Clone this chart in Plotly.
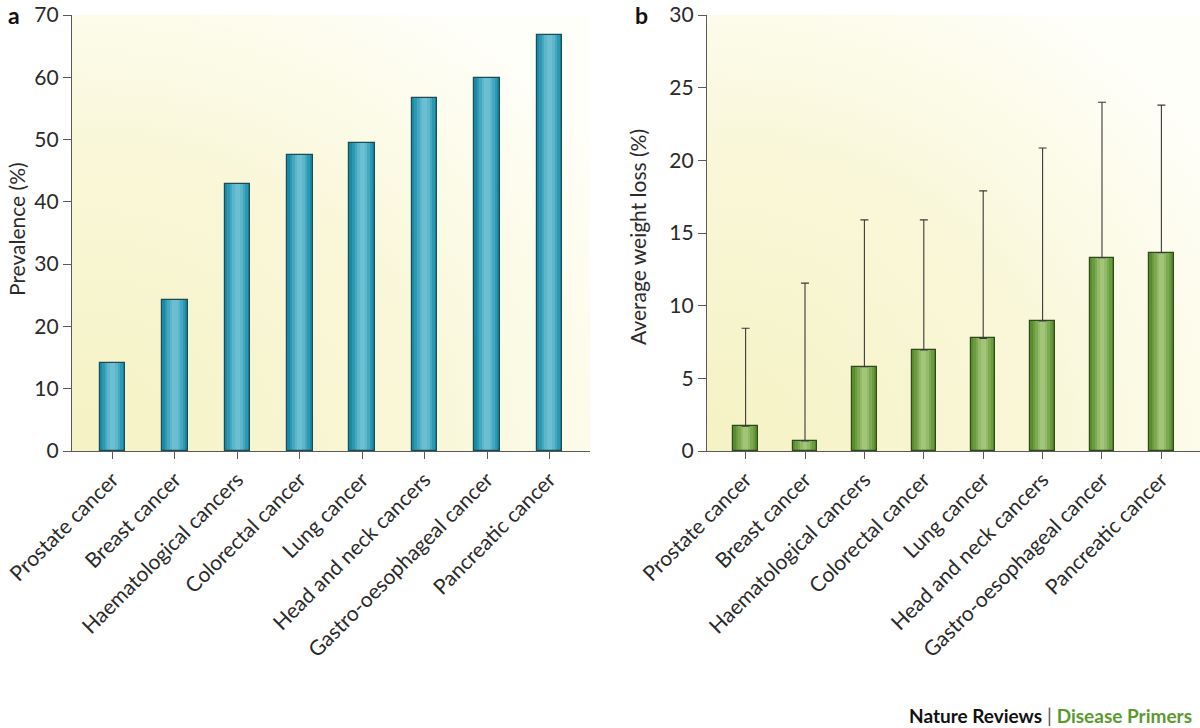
import base64
import plotly.graph_objects as go

categories = ["Prostate cancer", "Breast cancer", "Haematological cancers", "Colorectal cancer",
              "Lung cancer", "Head and neck cancers", "Gastro-oesophageal cancer", "Pancreatic cancer"]
prevalence = [14.1, 24.2, 42.9, 47.5, 49.4, 56.6, 59.9, 66.8]
weight_loss = [1.7, 0.7, 5.8, 6.95, 7.75, 8.95, 13.3, 13.65]
weight_loss_upper = [8.45, 11.55, 15.9, 15.9, 17.9, 20.85, 24.0, 23.8]

FONT = "Lato"
teal_shades = ["#188aa5", "#2c99b3", "#45a8c0", "#5db6ca", "#6cbfd2"]
green_shades = ["#588d2e", "#6a9b3e", "#7daa51", "#92ba68", "#a2c57a"]
teal_line = "#1d4b55"
green_line = "#2e4a1c"

fig = go.Figure()
x = list(range(len(categories)))
BW = 0.41

def add_bars(values, shades, line_color, xa, ya, err=None):
    n = len(shades)
    for i, c in enumerate(shades):
        w = BW * (1 - i / n) if i > 0 else BW
        fig.add_trace(go.Bar(x=x, y=values, width=w, marker=dict(color=c, line=dict(width=0)),
                             xaxis=xa, yaxis=ya, showlegend=False, hoverinfo="skip"))
    kw = {}
    if err is not None:
        kw["error_y"] = dict(type="data", symmetric=False, array=err, arrayminus=[0] * len(err),
                             color="#3a3a3a", thickness=1.1, width=4)
    fig.add_trace(go.Bar(x=x, y=values, width=BW,
                         marker=dict(color="rgba(0,0,0,0)", line=dict(color=line_color, width=1.2)),
                         xaxis=xa, yaxis=ya, showlegend=False, hoverinfo="skip", **kw))

add_bars(prevalence, teal_shades, teal_line, "x", "y")
err_plus = [u - v for u, v in zip(weight_loss_upper, weight_loss)]
add_bars(weight_loss, green_shades, green_line, "x2", "y2", err_plus)

svg = ('<svg xmlns="http://www.w3.org/2000/svg" width="200" height="200" viewBox="0 0 200 200" preserveAspectRatio="none">'
       '<defs><radialGradient id="g" cx="0" cy="1" r="1.25" gradientUnits="objectBoundingBox">'
       '<stop offset="0" stop-color="#f5f2c4"/><stop offset="0.55" stop-color="#f9f7d8"/>'
       '<stop offset="1" stop-color="#fffffa"/></radialGradient></defs>'
       '<rect width="200" height="200" fill="url(#g)"/></svg>')
src = "data:image/svg+xml;base64," + base64.b64encode(svg.encode()).decode()

TOP, BOT = 15, 451
PH = BOT - TOP
def py(pix):
    return (BOT - pix) / PH

L1, R1 = 72 / 1200, 590 / 1200
L2, R2 = 707 / 1200, 1.0
axis_color = "#5a5a5a"
tickfont = dict(family=FONT, size=21, color="#2a2a2a")

common_x = dict(tickmode="array", tickvals=x, ticktext=categories, tickangle=-45,
                range=[-0.65, 7.65], showline=True, linecolor=axis_color, linewidth=1.3,
                ticks="outside", ticklen=7, tickcolor=axis_color, tickwidth=1.2,
                tickfont=tickfont, showgrid=False, zeroline=False, automargin=False)
common_y = dict(showline=True, linecolor=axis_color, linewidth=1.3, ticks="outside", ticklen=8,
                tickcolor=axis_color, tickwidth=1.2, tickfont=tickfont, showgrid=False,
                zeroline=False, automargin=False)

fig.update_layout(
    width=1200, height=728,
    margin=dict(l=0, r=0, t=TOP, b=728 - BOT, autoexpand=False),
    paper_bgcolor="white", plot_bgcolor="rgba(0,0,0,0)",
    barmode="overlay", bargap=0,
    font=dict(family=FONT, color="#2a2a2a"),
    xaxis=dict(domain=[L1, R1], anchor="y", **common_x),
    yaxis=dict(domain=[0, 1], anchor="x", range=[0, 70], tickvals=[0, 10, 20, 30, 40, 50, 60, 70], **common_y),
    xaxis2=dict(domain=[L2, R2], anchor="y2", **common_x),
    yaxis2=dict(domain=[0, 1], anchor="x2", range=[0, 30], tickvals=[0, 5, 10, 15, 20, 25, 30], **common_y),
    images=[
        dict(source=src, xref="paper", yref="paper", x=L1, y=1, sizex=R1 - L1, sizey=1,
             xanchor="left", yanchor="top", sizing="stretch", layer="below"),
        dict(source=src, xref="paper", yref="paper", x=L2, y=1, sizex=R2 - L2, sizey=1,
             xanchor="left", yanchor="top", sizing="stretch", layer="below"),
    ],
    annotations=[
        dict(text="Prevalence (%)", x=16 / 1200, y=py(229), xref="paper", yref="paper",
             xanchor="center", yanchor="middle", textangle=-90, showarrow=False,
             font=dict(family=FONT, size=21, color="#2a2a2a")),
        dict(text="Average weight loss (%)", x=638 / 1200, y=py(237), xref="paper", yref="paper",
             xanchor="center", yanchor="middle", textangle=-90, showarrow=False,
             font=dict(family=FONT, size=21, color="#2a2a2a")),
        dict(text="<b>a</b>", x=6 / 1200, y=py(15), xref="paper", yref="paper",
             xanchor="left", yanchor="middle", showarrow=False, font=dict(family=FONT, size=23, color="#111")),
        dict(text="<b>b</b>", x=633 / 1200, y=py(15), xref="paper", yref="paper",
             xanchor="left", yanchor="middle", showarrow=False, font=dict(family=FONT, size=23, color="#111")),
        dict(text="<b>Nature Reviews</b> <span style='color:#555'>|</span> "
                  "<b><span style='color:#5b9a2e'>Disease Primers</span></b>",
             x=1194 / 1200, y=py(716), xref="paper", yref="paper",
             xanchor="right", yanchor="middle", showarrow=False,
             font=dict(family=FONT, size=19, color="#111")),
    ],
)

fig.write_html("out.html", config={"displayModeBar": False},
               post_script="document.body.style.margin='0';document.body.style.overflow='hidden';")
